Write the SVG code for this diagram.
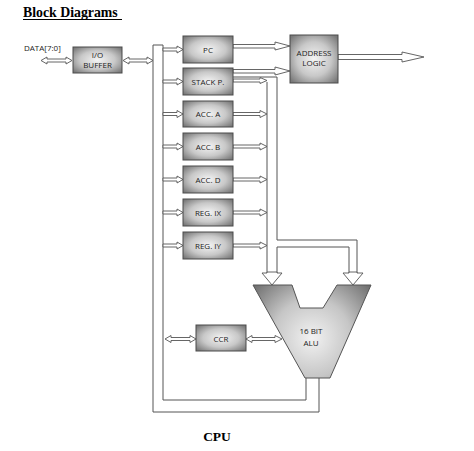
<svg xmlns="http://www.w3.org/2000/svg" width="474" height="451" viewBox="0 0 474 451">
<defs>
<radialGradient id="boxg" cx="50%" cy="50%" r="65%">
<stop offset="0" stop-color="#f4f4f4"/>
<stop offset="0.55" stop-color="#c8c8c8"/>
<stop offset="1" stop-color="#7a7a7a"/>
</radialGradient>
<radialGradient id="alug" gradientUnits="userSpaceOnUse" cx="312" cy="338" r="78">
<stop offset="0" stop-color="#f2f2f2"/>
<stop offset="0.5" stop-color="#c6c6c6"/>
<stop offset="1" stop-color="#6e6e6e"/>
</radialGradient>
<style>
.box{fill:url(#boxg);stroke:#4a4a4a;stroke-width:1}
.lbl{font-family:"Open Sans","Liberation Sans",sans-serif;font-size:8px;fill:#222;text-anchor:middle}
.ln{fill:none;stroke:#555;stroke-width:1}
.ar{fill:#fff;stroke:#555;stroke-width:0.9;stroke-linejoin:miter}
.ttl{font-family:"Liberation Serif","Times New Roman",serif;font-weight:bold;fill:#000}
</style>
</defs>
<rect width="474" height="451" fill="#fff"/>
<text class="ttl" x="23" y="17" font-size="13.8">Block Diagrams</text>
<line x1="23" y1="19.5" x2="122" y2="19.5" stroke="#000" stroke-width="1"/>
<text x="24" y="51" font-family="Open Sans, Liberation Sans, sans-serif" font-size="8" fill="#222">DATA[7:0]</text>

<g id="connectors">
<path class="ln" d="M153,412 V45 H163 V400 H306 V378"/>
<path class="ln" d="M153,412 H319 V378"/>
<path class="ln" d="M233,77 H277 V240 H357 V273"/>
<path class="ln" d="M277,247 V273"/>
<path class="ln" d="M277,247 H349 V273"/>
<path class="ln" d="M267,82 V273"/>
<path class="ar" d="M267,272 V273 H262 L272,285 L282,273 H277 V272 Z"/>
<path class="ar" d="M349,272 V273 H343 L353,285 L363,273 H357 V272 Z"/>
<path class="ar" d="M41,60.5 L47,57 V59 H66 V57 L72,60.5 L66,64 V62 H47 V64 Z"/>
<path class="ar" d="M123,60.5 L129,57 V59 H147 V57 L153,60.5 L147,64 V62 H129 V64 Z"/>
<path class="ar" d="M163,48 H177 V46 L183,49.5 L177,53 V51 H163 Z"/>
<path class="ar" d="M163,80 H177 V78 L183,81.5 L177,85 V83 H163 Z"/>
<path class="ar" d="M163,112.5 H177 V110.5 L183,114 L177,117.5 V115.5 H163 Z"/>
<path class="ar" d="M163,145 H177 V143 L183,146.5 L177,150 V148 H163 Z"/>
<path class="ar" d="M163,178 H177 V176 L183,179.5 L177,183 V181 H163 Z"/>
<path class="ar" d="M163,211 H177 V209 L183,212.5 L177,216 V214 H163 Z"/>
<path class="ar" d="M163,244 H177 V242 L183,245.5 L177,249 V247 H163 Z"/>
<path class="ar" d="M233,79 H260 V77.5 L267,80.5 L260,83.5 V82 H233 Z"/>
<path class="ar" d="M233,112.5 H260 V110.5 L267,114 L260,117.5 V115.5 H233 Z"/>
<path class="ar" d="M233,145 H260 V143 L267,146.5 L260,150 V148 H233 Z"/>
<path class="ar" d="M233,178 H260 V176 L267,179.5 L260,183 V181 H233 Z"/>
<path class="ar" d="M233,211 H260 V209 L267,212.5 L260,216 V214 H233 Z"/>
<path class="ar" d="M233,244 H260 V242 L267,245.5 L260,249 V247 H233 Z"/>
<path class="ar" d="M233,44.5 H275 V42 L290,46 L275,50 V48 H233 Z"/>
<path class="ar" d="M233,69.5 H275 V67 L290,71 L275,75 V73 H233 Z"/>
<path class="ar" d="M338,54.5 H402 V52 L424,57 L402,62 V59.5 H338 Z"/>
<path class="ar" d="M165,339 L171,335.5 V337.5 H190 V335.5 L196,339 L190,342.5 V340.5 H171 V342.5 Z"/>
<path class="ar" d="M246,339 L252,335.5 V337.5 H275 V335.5 L282,339 L275,342.5 V340.5 H252 V342.5 Z"/>
</g>

<g id="io-buffer"><rect class="box" x="73" y="47" width="49" height="26"/><text class="lbl" x="97.5" y="58">I/O</text><text class="lbl" x="97.5" y="67.5">BUFFER</text></g>
<g id="pc"><rect class="box" x="183" y="36" width="50" height="27"/><text class="lbl" x="208" y="52.5">PC</text></g>
<g id="stack-p"><rect class="box" x="183" y="68" width="50" height="27"/><text class="lbl" x="208" y="84.5">STACK P.</text></g>
<g id="acc-a"><rect class="box" x="183" y="101" width="50" height="26"/><text class="lbl" x="208" y="117">ACC. A</text></g>
<g id="acc-b"><rect class="box" x="183" y="133" width="50" height="27"/><text class="lbl" x="208" y="149.5">ACC. B</text></g>
<g id="acc-d"><rect class="box" x="183" y="166" width="50" height="27"/><text class="lbl" x="208" y="182.5">ACC. D</text></g>
<g id="reg-ix"><rect class="box" x="183" y="199" width="50" height="27"/><text class="lbl" x="208" y="215.5">REG. IX</text></g>
<g id="reg-iy"><rect class="box" x="183" y="232" width="50" height="27"/><text class="lbl" x="208" y="248.5">REG. IY</text></g>
<g id="address-logic"><rect class="box" x="290" y="35" width="48" height="48"/><text class="lbl" x="314" y="56">ADDRESS</text><text class="lbl" x="314" y="65.5">LOGIC</text></g>
<g id="ccr"><rect class="box" x="196" y="325" width="50" height="26"/><text class="lbl" x="221" y="341.5">CCR</text></g>
<g id="alu"><path d="M253,285 H292 L300,308 H323 L337,285 H371 L330,378 H305 Z" fill="url(#alug)" stroke="#555" stroke-width="1"/><text class="lbl" x="311" y="334">16 BIT</text><text class="lbl" x="311" y="345.5">ALU</text></g>

<text class="ttl" x="217" y="441" font-size="13.5" text-anchor="middle">CPU</text>
</svg>
